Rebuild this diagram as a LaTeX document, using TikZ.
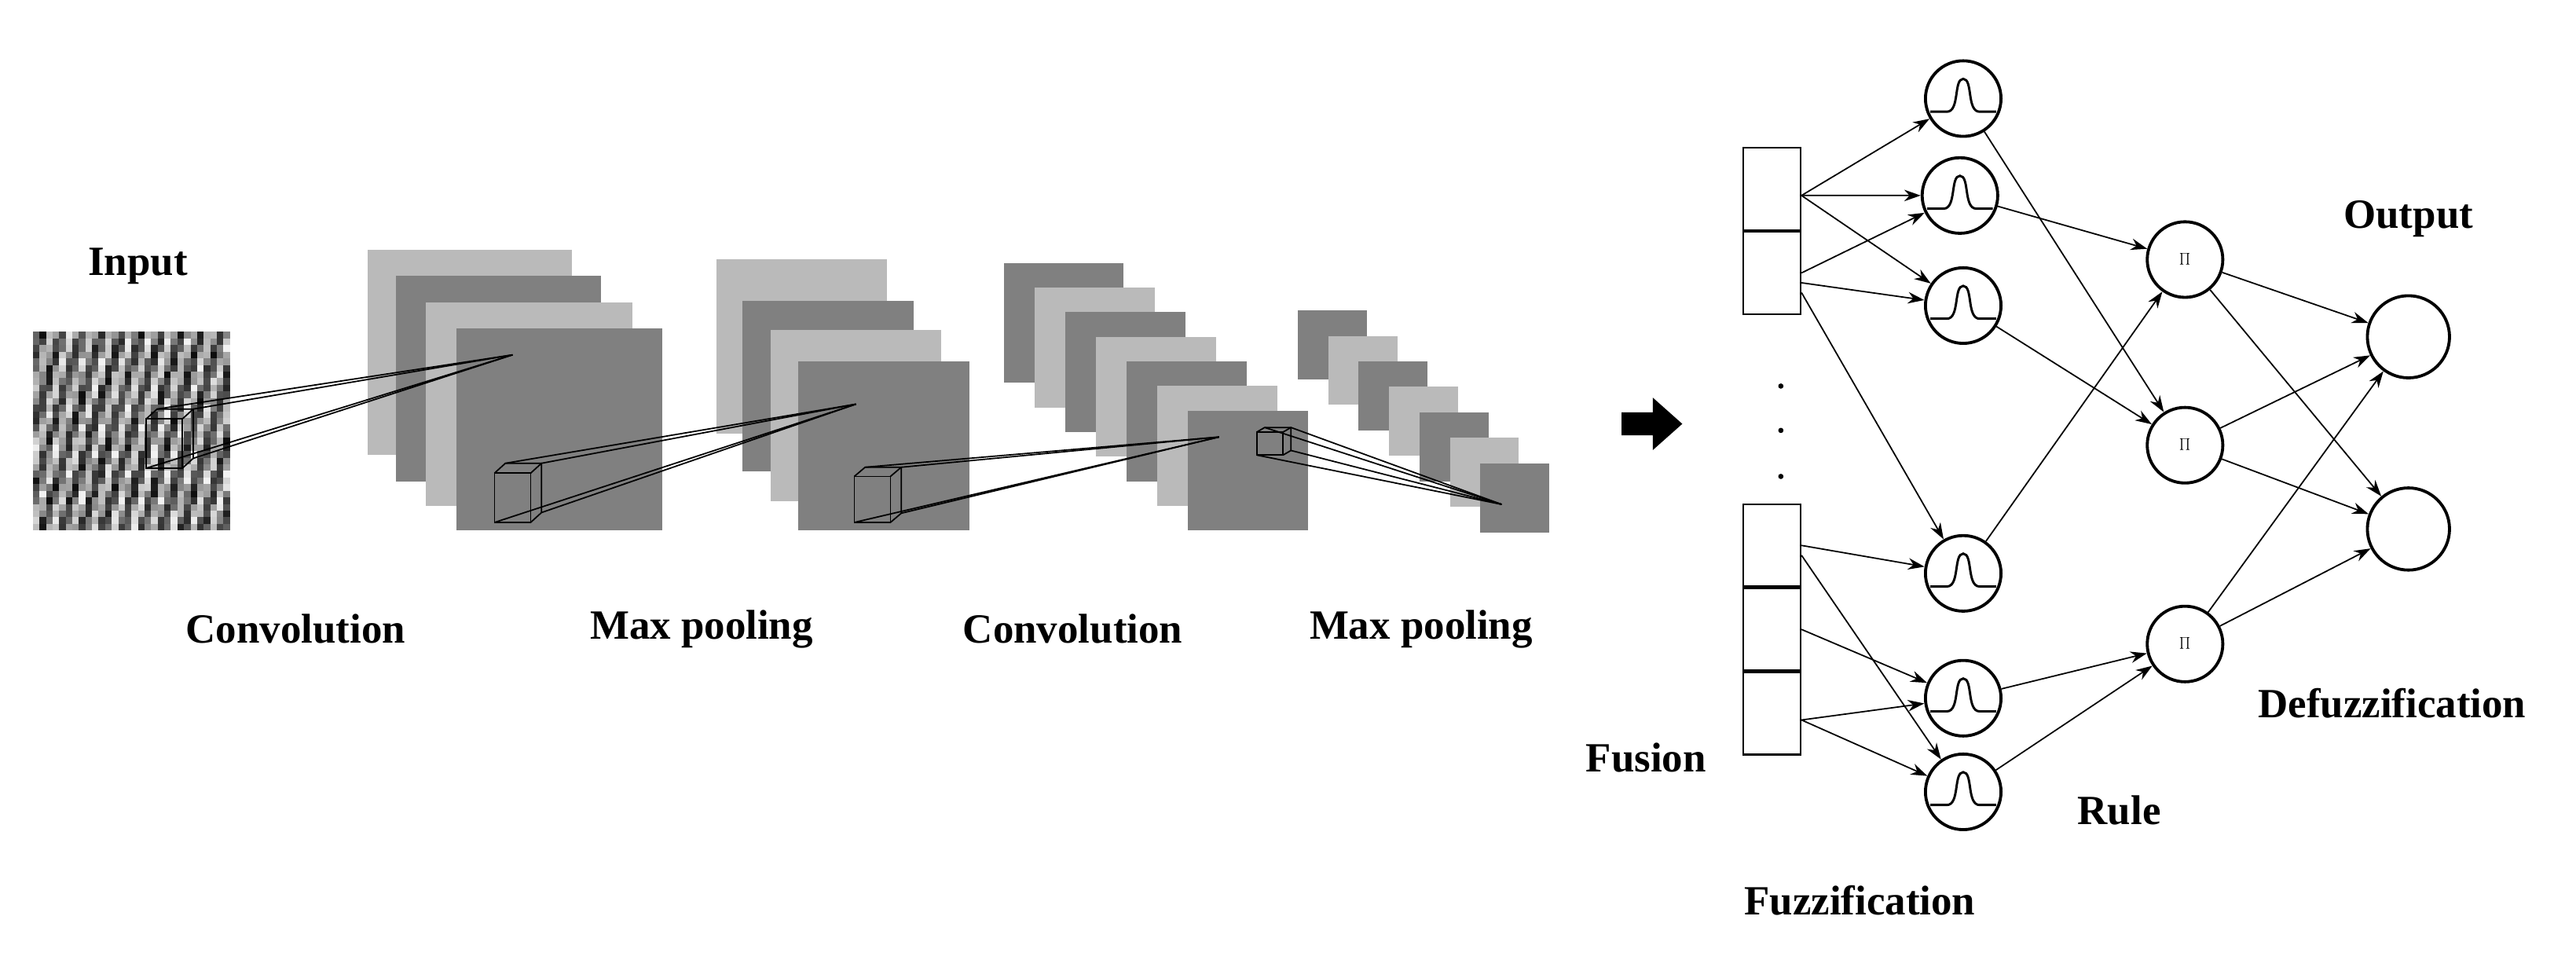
\documentclass[tikz,border=0pt]{standalone}
\usepackage{fontspec}
\setmainfont{Liberation Serif}
\usetikzlibrary{positioning, arrows.meta}

\tikzset{
  lbl/.style={font=\fontsize{36}{40}\selectfont\bfseries, inner sep=0pt},
  lite/.style={fill=black!27, draw=none},
  dark/.style={fill=black!50, draw=none},
  cell/.style={draw, line width=1.6pt, fill=white, minimum width=17.5mm, minimum height=25mm, inner sep=0pt},
  mf/.style={circle, draw, line width=2.6pt, minimum size=23mm, inner sep=0pt},
  rule/.style={circle, draw, line width=2.6pt, minimum size=23mm, inner sep=0pt, font=\fontsize{34}{36}\selectfont},
  outn/.style={circle, draw, line width=2.6pt, minimum size=25mm, inner sep=0pt},
  edge/.style={line width=1.2pt, -{Stealth[length=5mm, width=3.5mm]}},
  ray/.style={line width=1.2pt}
}

% bump shape inside a membership node
\newcommand{\bumpin}[1]{%
  \draw[line width=2pt] ([xshift=-10mm,yshift=-4mm]#1.center) -- ([xshift=-5mm,yshift=-4mm]#1.center)
    .. controls ([xshift=-1mm,yshift=-4mm]#1.center) and ([xshift=-3mm,yshift=6mm]#1.center) .. ([yshift=6mm]#1.center)
    .. controls ([xshift=3mm,yshift=6mm]#1.center) and ([xshift=1mm,yshift=-4mm]#1.center) .. ([xshift=5mm,yshift=-4mm]#1.center)
    -- ([xshift=10mm,yshift=-4mm]#1.center);}

% box with depth and four rays to a tip
\newcommand{\probe}[5]{%
  \draw[line width=1.2pt] (#1,#2) rectangle (#1+#3,#2+#4);
  \draw[line width=1.2pt] (#1,#2) -- (#1+#3*0.3,#2-#4*0.2) -- (#1+#3*1.3,#2-#4*0.2) -- (#1+#3*1.3,#2+#4*0.8) -- (#1+#3,#2+#4);
  \draw[line width=1.2pt] (#1+#3,#2) -- (#1+#3*1.3,#2-#4*0.2);
  \draw[ray] (#1,#2+#4) -- (#5);
  \draw[ray] (#1+#3*0.3,#2-#4*0.2) -- (#5);
  \draw[ray] (#1+#3*1.3,#2-#4*0.2) -- (#5);
  \draw[ray] (#1+#3*1.3,#2+#4*0.8) -- (#5);}

\begin{document}
\begin{tikzpicture}[x=0.5mm, y=-0.5mm]
\useasboundingbox (0,0) rectangle (1568,584);

% input patch
\pgfmathsetseed{7}
\foreach \i in {0,...,29}{
  \foreach \j in {0,...,29}{
    \pgfmathsetmacro{\gv}{max(5,min(95,50+35*sin(360*(\i*0.33+\j*0.1))+30*(rnd-0.5)))}
    \fill[black!\gv] (20+\i*4,202+\j*4.03) rectangle +(4.1,4.1);
  }
}
\node[lbl] (input) at (84,162) {Input};

% first convolution stack
\fill[lite] (224,152) rectangle (348,277);
\fill[dark] (241,168) rectangle (366,293);
\fill[lite] (259,184) rectangle (385,308);
\fill[dark] (278,200) rectangle (403,323);
\coordinate (tipA) at (312,216);
\probe{89}{255}{22}{30}{tipA}

% first pooling stack
\fill[lite] (436,158) rectangle (540,264);
\fill[dark] (452,183) rectangle (556,287);
\fill[lite] (469,201) rectangle (573,305);
\fill[dark] (486,220) rectangle (590,323);
\coordinate (tipB) at (521,246);
\probe{301}{288}{22}{30}{tipB}

% second convolution stack
\foreach \k in {0,...,6}{
  \pgfmathtruncatemacro{\odd}{mod(\k,2)}
  \ifnum\odd=0 \fill[dark] (611+\k*18.7,160+\k*15) rectangle +(73,73);
  \else \fill[lite] (611+\k*18.7,160+\k*15) rectangle +(73,73); \fi
}
\coordinate (tipC) at (742,266);
\probe{520}{290}{22}{28}{tipC}

% second pooling stack
\foreach \k in {0,...,6}{
  \pgfmathtruncatemacro{\odd}{mod(\k,2)}
  \ifnum\odd=0 \fill[dark] (790+\k*18.5,189+\k*15.5) rectangle +(42,42);
  \else \fill[lite] (790+\k*18.5,189+\k*15.5) rectangle +(42,42); \fi
}
\coordinate (tipD) at (914,307);
\probe{765}{263}{16}{14}{tipD}

\node[lbl] (conv1) at (180,383) {Convolution};
\node[lbl] (pool1) at (427,383) {Max pooling};
\node[lbl] (conv2) at (653,383) {Convolution};
\node[lbl] (pool2) at (865,383) {Max pooling};

% block arrow
\fill (987,251) -- (1006,251) -- (1006,242) -- (1024,258) -- (1006,274) -- (1006,265) -- (987,265) -- cycle;

% fusion cells
\node[cell] (c1) at (1078.5,115) {};
\node[cell, below=0pt of c1] (c2) {};
\node[cell] (c3) at (1078.5,332) {};
\node[cell, below=0pt of c3] (c4) {};
\node[cell, below=0pt of c4] (c5) {};
\foreach \yy in {235,262,290}{\fill (1084,\yy) circle (1.6);}

% membership nodes
\node[mf] (g1) at (1195,60) {};
\node[mf] (g2) at (1193,119) {};
\node[mf] (g3) at (1195,186) {};
\node[mf] (g4) at (1195,349) {};
\node[mf] (g5) at (1195,425) {};
\node[mf] (g6) at (1195,482) {};
\foreach \nn in {g1,g2,g3,g4,g5,g6}{\bumpin{\nn}}

% rule nodes
\node[rule] (p1) at (1330,158) {$\prod$};
\node[rule] (p2) at (1330,271) {$\prod$};
\node[rule] (p3) at (1330,392) {$\prod$};

% output nodes
\node[outn] (o1) at (1466,205) {};
\node[outn] (o2) at (1466,322) {};

% fuzzification links
\draw[edge] ([yshift=-2mm]c1.east) -- (g1);
\draw[edge] ([yshift=-2mm]c1.east) -- (g2);
\draw[edge] ([yshift=-2mm]c1.east) -- (g3);
\draw[edge] (c2.east) -- (g2);
\draw[edge] ([yshift=-3mm]c2.east) -- (g3);
\draw[edge] ([yshift=-6mm]c2.east) -- (g4);
\draw[edge] (c3.east) -- (g4);
\draw[edge] ([yshift=-3mm]c3.east) -- (g6);
\draw[edge] (c4.east) -- (g5);
\draw[edge] ([yshift=-2mm]c5.east) -- (g5);
\draw[edge] ([yshift=-2mm]c5.east) -- (g6);

% rule links
\draw[edge] (g1) -- (p2);
\draw[edge] (g2) -- (p1);
\draw[edge] (g3) -- (p2);
\draw[edge] (g4) -- (p1);
\draw[edge] (g5) -- (p3);
\draw[edge] (g6) -- (p3);

% output links
\foreach \p in {p1,p2,p3}{
  \foreach \o in {o1,o2}{
    \draw[edge] (\p) -- (\o);
  }
}

\node[lbl] (fus) at (1002,461) {Fusion};
\node[lbl] (fuz) at (1132,548) {Fuzzification};
\node[lbl] (rl) at (1290,493) {Rule};
\node[lbl] (dfz) at (1456,428) {Defuzzification};
\node[lbl] (outl) at (1466,133) {Output};
\end{tikzpicture}
\end{document}
